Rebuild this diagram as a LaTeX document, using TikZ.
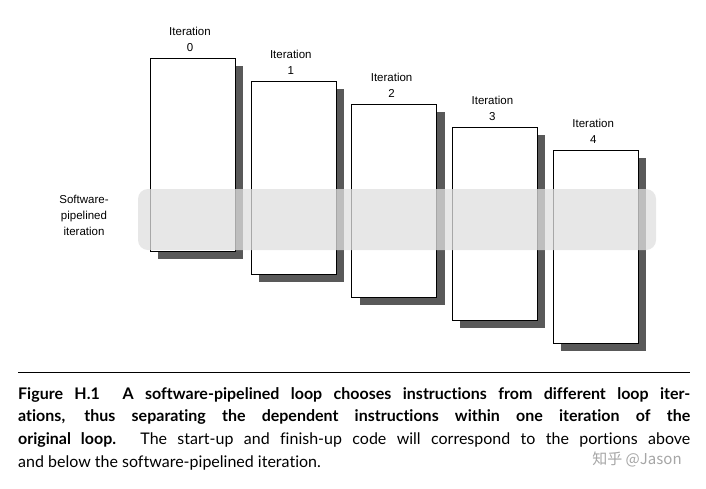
\documentclass[tikz,border=0pt]{standalone}
\usepackage{fontspec}
\setmainfont{Liberation Sans}
\newfontfamily\capfont[Ligatures={NoCommon}]{Lato}
\newfontfamily\cjk{Noto Sans CJK SC}
\begin{document}
\begin{tikzpicture}[x=1pt,y=-1pt,
  itbox/.style={draw,fill=white,line width=0.6pt},
  shadowbox/.style={fill=black!65},
  lbl/.style={font=\fontsize{11.5}{16}\selectfont,align=center}]
\useasboundingbox[fill=white] (0,0) rectangle (706,488);
\foreach \i in {0,...,4}{
  \pgfmathsetmacro\xx{150+100.8*\i}
  \pgfmathsetmacro\yy{58+23*\i}
  \fill[shadowbox] (\xx+8,\yy+8) rectangle ++(85,193);
  \draw[itbox] (\xx,\yy) rectangle ++(85,193);
  \node[lbl,anchor=south] (it\i) at (\xx+40,\yy-3) {Iteration\\\i};
}
\fill[black!12,opacity=0.75,rounded corners=10pt] (138,189) rectangle (656,250);
\node[lbl,inner sep=0] (sw) at (84,215) {Software-\\pipelined\\iteration};
\draw[line width=0.5pt] (18,372) coordinate (l1) -- (690,372) coordinate (l2);
\node[anchor=north west,inner sep=0,text width=672pt,align=justify,
  font=\capfont\fontsize{16}{22.8}\selectfont] (cap) at (18,387)
 {\textbf{Figure H.1\ \ A software-pipelined loop chooses instructions from different loop iter-\linebreak ations, thus separating the dependent instructions within one iteration of the\linebreak original loop.} The start-up and finish-up code will correspond to the portions above\linebreak and below the software-pipelined iteration.};
\node[text=black!35,font=\cjk\fontsize{15}{15}\selectfont] (wm) at (637,459) {知乎 @Jason};
\end{tikzpicture}
\end{document}
